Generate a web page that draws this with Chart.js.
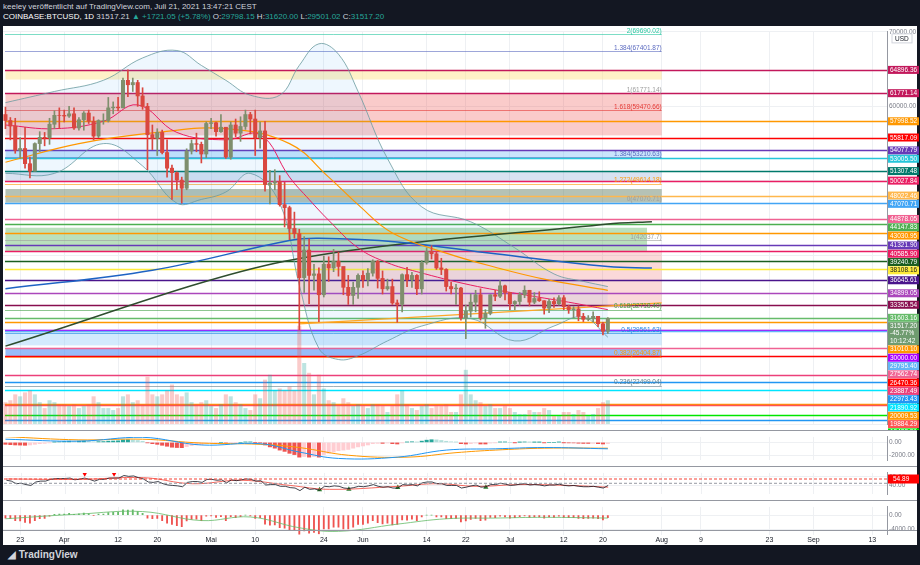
<!DOCTYPE html>
<html><head><meta charset="utf-8">
<script src="https://cdn.jsdelivr.net/npm/chart.js@4"></script>
<style>
body{margin:0;width:920px;height:565px;background:#131722;position:relative;overflow:hidden;font-family:"Liberation Sans",Arial,sans-serif}
#hd{position:absolute;left:3px;top:2px;color:#d1d4dc;font-size:8px;line-height:10px}
#hd b{font-weight:normal;color:#fff}#hd .g{color:#26a69a}
#white{position:absolute;left:3px;top:26px;width:914px;height:519px;background:#fff}
canvas{position:absolute;left:0}
.sep{position:absolute;left:3px;width:914px;height:1px;background:#9598a1}
#ft{position:absolute;left:8px;top:549px;color:#d1d4dc;font-size:10px;font-weight:bold}
</style></head><body>
<div id="hd">keeley veröffentlicht auf TradingView.com, Juli 21, 2021 13:47:21 CEST<br>
<b>COINBASE:BTCUSD, 1D</b> 31517.21 <span class="g">▲ +1721.05 (+5.78%)</span> O:<span class="g">29798.15</span> H:<span class="g">31620.00</span> L:<span class="g">29501.02</span> C:<span class="g">31517.20</span></div>
<div id="white"></div>
<canvas id="cMain" style="top:26px"></canvas>
<canvas id="cMacd" style="top:431px"></canvas>
<canvas id="cRsi" style="top:467px"></canvas>
<canvas id="cStoch" style="top:501px"></canvas>
<div class="sep" style="top:430px"></div><div class="sep" style="top:466px"></div><div class="sep" style="top:500px"></div><div class="sep" style="top:530px"></div>
<div id="ft">◢ TradingView</div>
<script>
// ---- data: daily candles from 20 Mar 2021 (day 0) to 21 Jul 2021 (day 123) ----
const firstOpen = 58900;
const closes = [58100,57350,54100,54340,52300,51300,55000,55840,55780,57600,58800,58790,
58700,59000,57100,58200,59100,58000,56000,58100,58100,59800,59900,59800,63500,62900,63200,61400,60000,56200,55700,56500,53800,51700,51100,50100,49000,54000,55000,54900,53600,57700,
57800,56600,57200,53200,57500,56400,57300,58900,58300,55800,56700,49500,49700,49900,46800,46400,43600,42900,37000,40700,37300,37500,34700,38800,38300,39200,38500,35700,34600,35700,37300,
36700,37600,39200,36900,35500,35800,33600,33400,37400,36700,37300,35500,39000,40500,40200,38300,38100,35800,35500,35600,31600,32500,33700,34700,31600,32200,34700,34500,35900,35000,
33500,33800,34700,35300,33700,34200,33900,32900,33800,33500,34300,33100,32700,32800,31800,31400,31500,31800,30800,29800,31517];
const highs = [59900,58500,58400,55800,57200,53200,55100,56600,56500,58400,59400,59800,
59500,60000,59800,58500,59300,59500,58600,58200,59000,61200,60600,61200,63800,64900,63800,63500,62500,60400,57500,57000,56800,55500,52100,51200,50500,54300,55500,56400,55200,57900,
58400,57900,58900,57200,57900,58300,58600,59500,59200,59500,57900,58000,51400,51500,50700,49800,46600,45800,43500,42500,42200,38800,38300,39900,39800,40800,40400,38200,37300,36400,37500,
37900,38200,39400,39300,37900,36800,36800,34000,37500,38400,37700,37400,39300,41000,41300,40500,39600,38200,36400,36100,35700,33300,34800,35300,35500,32700,34700,35300,36600,36000,
35000,33900,35000,35900,35300,35000,35100,33900,34100,34300,34600,34600,33300,33100,33200,32200,31900,32400,31800,31000,31620];
const lows = [57000,55500,53700,53000,51700,50400,51300,53900,54700,54900,57000,57000,
57900,58500,56900,56800,56800,57700,55500,55800,57600,57900,59000,59400,59800,61300,62000,60000,59600,51500,54200,53400,53600,50500,47500,48800,47000,48800,53600,53900,52400,53100,
57000,56000,56500,53000,52900,55900,55300,56900,56300,53400,54400,48600,46900,48800,46600,43800,42100,42300,30000,35000,33500,35300,31100,34400,36500,37800,37200,34700,33400,33400,34200,
35700,35900,37200,35600,34800,35300,33400,31000,32400,35800,35700,34700,34800,38800,39500,38100,37400,35200,34800,33400,31300,28800,31700,32400,31300,30200,32000,33900,34300,34000,
32700,32700,33300,34300,33200,33500,33800,32100,32300,33000,33300,32700,32200,31600,31200,31100,31200,31100,30400,29300,29501];
const volumes = [22,24,30,28,32,34,30,22,16,24,22,20,
20,18,20,16,18,20,28,22,16,16,14,16,28,30,22,24,20,48,30,28,30,34,40,30,28,32,22,20,22,24,
18,16,20,30,28,22,20,16,14,30,26,45,50,34,36,34,38,34,100,62,52,30,50,36,24,22,18,26,22,18,20,
18,16,20,20,18,12,18,30,34,20,16,14,18,20,16,18,18,20,12,12,30,55,30,24,22,18,20,16,16,18,
16,12,10,10,14,12,12,16,14,8,8,12,12,10,14,12,8,10,16,22,24];
const macdHist = [-300,-350,-400,-420,-450,-400,-300,-200,-150,-50,50,100,
150,200,180,200,220,180,100,120,130,200,220,250,380,420,400,300,180,-50,-200,-300,-450,-600,-750,-800,-820,-650,-500,-400,-350,-150,
-80,-50,0,-100,-50,-30,0,50,60,-20,-50,-400,-700,-900,-1200,-1400,-1700,-1900,-2300,-2200,-2300,-2200,-2300,-1900,-1700,-1500,-1300,-1200,-1100,-900,-700,
-550,-400,-200,-150,-150,-100,-200,-250,-50,50,100,50,200,350,420,400,300,180,100,50,-200,-250,-200,-100,-250,-250,-100,-50,50,60,
0,-20,20,60,20,20,20,-30,0,0,40,-20,-60,-80,-130,-160,-160,-150,-200,-250,-180];
const rsi = [52,50,44,45,42,40,48,50,50,54,56,56,
56,57,53,55,57,54,50,54,54,57,57,57,63,61,62,58,55,48,47,49,44,41,40,39,37,47,49,49,47,54,
54,52,53,46,53,51,53,55,54,50,51,41,42,42,38,38,35,34,28,36,31,32,29,38,37,39,38,34,33,35,38,
37,39,42,38,36,37,34,34,42,41,42,39,46,48,48,44,44,40,40,40,34,36,39,41,36,37,42,42,45,43,
40,41,43,44,41,42,41,39,41,41,43,40,39,40,38,37,37,38,36,34,40];
const momHist = [-800,-1000,-1500,-1600,-2000,-2200,-1500,-1000,-900,-300,200,300,
300,500,200,400,600,400,-100,300,300,700,800,800,1500,1400,1500,1000,500,-800,-1000,-900,-1500,-2200,-2600,-2900,-3200,-1600,-1200,-1100,-1500,-300,
-200,-600,-400,-1500,-400,-700,-400,0,-200,-900,-700,-2500,-2800,-2700,-3500,-3600,-4200,-4300,-5500,-4400,-5000,-4800,-5200,-3800,-3800,-3300,-3300,-3800,-3800,-3300,-2600,
-2600,-2200,-1500,-2100,-2400,-2200,-2700,-2600,-1300,-1400,-1100,-1500,-500,0,0,-500,-500,-1000,-1000,-900,-1900,-1600,-1200,-900,-1500,-1400,-600,-700,-300,-500,
-800,-700,-400,-200,-600,-500,-500,-800,-500,-600,-300,-600,-700,-700,-900,-1000,-900,-800,-1000,-1300,-700];

// indicator lines as [day, value]
const emaFast = [[0,57500],[10,57000],[20,58000],[27,60200],[35,56500],[45,55500],[52,56200],[58,50500],[62,47500],[66,44700],[72,41000],[78,39000],[84,37800],[95,36000],[105,34800],[115,33700],[123,32700]];
const emaMid = [[0,52500],[15,55000],[31,56500],[45,57000],[58,55000],[66,50500],[72,46800],[79,43000],[90,40300],[100,38400],[110,36800],[123,35300]];
const sma200 = [[0,35500],[30,38000],[58,42000],[64,42300],[80,41800],[100,40200],[123,38500],[132,38300]];
const emaLong = [[0,27800],[57,39200],[123,44200],[132,44500]];
const trendLine = [[60,30800],[134,33600]];
const bandDays = [0,10,20,28,35,40,45,50,56,60,64,68,72,78,85,95,104,112,118,123];
const bandUpper = [60500,62000,63500,66500,67500,65500,63500,61500,61500,65500,68400,67000,62000,53000,46500,44500,41000,37500,36500,35800];
const bandLower = [51000,51000,55000,52000,47000,47500,48500,51000,47000,36000,27500,26000,26500,28500,30500,31500,28500,30500,31700,29000];
const macdLine = [[0,500],[15,200],[28,800],[40,-400],[52,-200],[60,-1500],[68,-2500],[80,-2300],[90,-1200],[100,-1000],[110,-800],[123,-1000]];
const macdSignal = [[0,900],[15,400],[28,500],[40,-100],[52,-300],[60,-800],[70,-2000],[82,-2300],[92,-1600],[100,-1200],[110,-900],[123,-900]];
const rsiSmooth = [[0,55],[15,54],[28,58],[38,44],[48,52],[58,40],[66,31],[80,38],[88,44],[96,38],[105,42],[115,40],[123,36]];
const rsiSells = [[16,67],[22,67]];
const rsiBuys = [[64,30],[70,31],[80,35],[98,36]];
const momLine = [[0,-1000],[15,300],[28,1000],[40,-1500],[50,-500],[60,-3500],[68,-4500],[80,-2500],[90,-1000],[100,-800],[110,-600],[123,-800]];

const tickDays = [3,12,23,31,42,51,65,73,86,94,103,114,122,134,142,156,165,177];
const tickNames = ['23','Apr','12','20','Mai','10','24','Jun','14','22','Jul','12','20','Aug','9','23','Sep','13'];

// horizontal levels [price, colour]
const levels = [[64896.36,'#c2185b'],[61771.14,'#c2185b'],[57998.52,'#ff9800'],[55817.09,'#f00'],[54077.79,'#673ab7'],[53005.50,'#26c6da'],
[51307.48,'#00796b'],[50027.84,'#e91e63'],[48022.46,'#ffb74d'],[47070.71,'#42a5f5'],[44878.05,'#f06292'],[44147.83,'#4caf50'],[43030.95,'#ff9800'],
[41321.90,'#673ab7'],[40585.90,'#e91e63'],[39240.79,'#1b5e20'],[38108.16,'#ffeb3b'],[36645.61,'#4a148c'],[34899.05,'#ab47bc'],[33355.54,'#880e4f'],
[31603.16,'#66bb6a'],[31010.10,'#ff9800'],[30000.00,'#aa00ff'],[29795.40,'#64b5f6'],[27562.74,'#f06292'],[26470.36,'#f00'],[23887.49,'#ec407a'],
[22973.43,'#2196f3'],[21890.92,'#00e5ff'],[20009.53,'#ff9800'],[19884.29,'#ff5252'],[18488.51,'#00e600'],[17900.00,'#2196f3']];
// fibonacci labels [text, price, colour]
const fibs = [['2(69690.02)',69690,'#26c6a0'],['1.384(67401.87)',67402,'#5c6bc0'],['1(61771.14)',61771,'#9e9e9e'],['1.618(59470.66)',59471,'#e53935'],
['1.384(53210.63)',53211,'#5c6bc0'],['1.272(49614.18)',49614,'#ff9800'],['0(47070.71)',47071,'#9e9e9e'],['1(42037.7)',42038,'#9e9e9e'],
['0.618(32718.40)',32718,'#43a047'],['0.5(29561.63)',29562,'#1e88e5'],['0.382(26404.87)',26405,'#ff9800'],['0.236(22499.04)',22499,'#607d8b']];
// shaded zones [dayFrom, dayTo, priceTop, priceBottom, fill]
const zones = [[0,134,64896,63600,'rgba(255,224,130,0.45)'],[0,134,61771,56100,'rgba(239,83,80,0.3)'],[0,134,54077,53005,'rgba(100,181,246,0.35)'],
[0,134,51307,50027,'rgba(100,140,200,0.25)'],[0,134,48900,47070,'rgba(90,120,90,0.45)'],[0,131,43700,40585,'rgba(102,187,106,0.45)'],
[60,134,40585,33000,'rgba(239,83,80,0.22)'],[0,134,29795,27900,'rgba(144,202,249,0.4)'],[0,134,27562,26470,'rgba(66,133,244,0.55)']];

const up = '#7f8f6d', dn = '#d9473f';
const opens = [firstOpen, ...closes.slice(0, -1)];
const days = closes.map((c, i) => i);
const pts = a => a.map(p => ({x: p[0], y: p[1]}));
const axisW = 33;
const fitY = s => { s.width = axisW; };
const xScale = (showLabels) => ({
  type: 'linear', min: -0.5, max: 180, offset: false,
  afterBuildTicks: ax => { ax.ticks = tickDays.map(v => ({value: v})); },
  ticks: {display: showLabels, color: '#131722', font: {size: 7}, maxRotation: 0, autoSkip: false,
    callback: v => tickNames[tickDays.indexOf(v)], padding: 1},
  grid: {color: '#eef0f3', drawTicks: false, offset: false}, border: {display: false}
});
const yCommon = (min, max, ticks) => ({
  position: 'right', min, max, afterFit: fitY,
  afterBuildTicks: ticks ? (ax => { ax.ticks = ticks.map(v => ({value: v})); }) : undefined,
  ticks: {color: '#787b86', font: {size: 6.5}, padding: 2, callback: v => v.toFixed(2)},
  grid: {color: '#eef0f3', drawTicks: false}, border: {color: '#9598a1'}
});
const base = {responsive: false, animation: false, plugins: {legend: {display: false}, tooltip: {enabled: false}},
  layout: {padding: {left: 3, right: 0, top: 0, bottom: 0}}};
function size(id, h) { const c = document.getElementById(id); c.width = 920; c.height = h; c.style.width = '920px'; c.style.height = h + 'px'; return c; }

// ---- main price pane ----
const overlay = {
  id: 'overlay',
  beforeDatasetsDraw(chart) {
    const {ctx, scales: {x, y}, chartArea: a} = chart;
    ctx.save();
    zones.forEach(z => {
      ctx.fillStyle = z[4];
      const y1 = y.getPixelForValue(z[2]), y2 = y.getPixelForValue(z[3]);
      ctx.fillRect(x.getPixelForValue(z[0]), y1, x.getPixelForValue(z[1]) - x.getPixelForValue(z[0]), y2 - y1);
    });
    fibs.forEach(f => {
      const py = Math.round(y.getPixelForValue(f[1])) + 0.5;
      ctx.strokeStyle = f[2]; ctx.globalAlpha = 0.6; ctx.lineWidth = 1;
      ctx.beginPath(); ctx.moveTo(a.left + 2, py); ctx.lineTo(x.getPixelForValue(134), py); ctx.stroke();
    });
    ctx.globalAlpha = 1;
    levels.forEach(l => {
      const py = Math.round(y.getPixelForValue(l[0])) + 0.5;
      ctx.strokeStyle = l[1]; ctx.lineWidth = 1.5;
      ctx.beginPath(); ctx.moveTo(a.left + 2, py); ctx.lineTo(a.right, py); ctx.stroke();
    });
    ctx.restore();
  },
  afterDraw(chart) {
    const {ctx, scales: {x, y}, chartArea: a} = chart;
    ctx.save();
    ctx.font = '6.5px "Liberation Sans", Arial'; ctx.textBaseline = 'middle';
    fibs.forEach(f => {
      ctx.fillStyle = f[2]; ctx.textAlign = 'right';
      ctx.fillText(f[0], x.getPixelForValue(134), y.getPixelForValue(f[1]) - 3);
    });
    const items = levels.map(l => ({p: l[0], c: l[1], y: y.getPixelForValue(l[0])}))
      .concat([{p: 31517.20, c: '#6f9c70', y: y.getPixelForValue(31517.20), cur: true}])
      .sort((m, n) => m.y - n.y);
    let last = -99;
    items.forEach(it => {
      const h = it.cur ? 23 : 8;
      let ty = Math.max(it.y - 4, last + 0.3);
      last = ty + h;
      ctx.fillStyle = it.c; ctx.fillRect(a.right + 1, ty, axisW - 2, h);
      ctx.fillStyle = it.c === '#ffeb3b' ? '#131722' : '#fff'; ctx.textAlign = 'left';
      ctx.fillText(it.p.toFixed(2), a.right + 3, ty + 4.2);
      if (it.cur) { ctx.fillText('-45.77%', a.right + 3, ty + 11.5); ctx.fillText('10:12:42', a.right + 3, ty + 18.8); }
    });
    ctx.fillStyle = '#fff'; ctx.strokeStyle = '#d1d4dc';
    ctx.fillRect(a.right + 5, a.top + 2, 20, 9); ctx.strokeRect(a.right + 5, a.top + 2, 20, 9);
    ctx.fillStyle = '#131722'; ctx.fillText('USD', a.right + 8, a.top + 7);
    ctx.restore();
  }
};
new Chart(size('cMain', 404), {
  data: {datasets: [
    {type: 'bar', data: days.map(i => ({x: i, y: [opens[i], closes[i]]})), backgroundColor: days.map(i => closes[i] >= opens[i] ? up : dn), barThickness: 3.4, grouped: false, order: 1},
    {type: 'bar', data: days.map(i => ({x: i, y: [lows[i], highs[i]]})), backgroundColor: days.map(i => closes[i] >= opens[i] ? up : dn), barThickness: 1, grouped: false, order: 2},
    {type: 'line', data: pts(emaFast), borderColor: '#e91e63', borderWidth: 1, pointRadius: 0, tension: 0.4, order: 3},
    {type: 'line', data: pts(emaMid), borderColor: '#ff9800', borderWidth: 1.2, pointRadius: 0, tension: 0.4, order: 3},
    {type: 'line', data: pts(sma200), borderColor: '#1e63c4', borderWidth: 1.5, pointRadius: 0, tension: 0.4, order: 3},
    {type: 'line', data: pts(emaLong), borderColor: '#2e4d2e', borderWidth: 1.5, pointRadius: 0, tension: 0.3, order: 3},
    {type: 'line', data: pts(trendLine), borderColor: '#ffa726', borderWidth: 1.2, pointRadius: 0, order: 3},
    {type: 'line', data: bandDays.map((d, i) => ({x: d, y: bandUpper[i]})), borderColor: '#6a9aa0', borderWidth: 0.8, pointRadius: 0, tension: 0.4, fill: '+1', backgroundColor: 'rgba(33,150,243,0.08)', order: 4},
    {type: 'line', data: bandDays.map((d, i) => ({x: d, y: bandLower[i]})), borderColor: '#6a9aa0', borderWidth: 0.8, pointRadius: 0, tension: 0.4, order: 4},
    {type: 'bar', yAxisID: 'yv', data: days.map(i => ({x: i, y: volumes[i]})), backgroundColor: days.map(i => closes[i] >= opens[i] ? 'rgba(38,166,154,0.3)' : 'rgba(239,83,80,0.3)'), barThickness: 3.4, grouped: false, order: 5}
  ]},
  options: {...base, scales: {
    x: xScale(false),
    y: yCommon(17330, 70000),
    yv: {display: false, min: 0, max: 400}
  }},
  plugins: [overlay]
});

// ---- MACD pane ----
new Chart(size('cMacd', 35), {
  data: {datasets: [
    {type: 'line', data: pts(macdLine), borderColor: '#2196f3', borderWidth: 1, pointRadius: 0, tension: 0.4},
    {type: 'line', data: pts(macdSignal), borderColor: '#ff9800', borderWidth: 1, pointRadius: 0, tension: 0.4},
    {type: 'bar', data: days.map(i => ({x: i, y: macdHist[i]})), barThickness: 3.4,
      backgroundColor: days.map(i => macdHist[i] >= 0 ? (i && macdHist[i] < macdHist[i-1] ? '#b2dfdb' : '#26a69a') : (i && macdHist[i] > macdHist[i-1] ? '#ffcdd2' : '#ef5350'))}
  ]},
  options: {...base, scales: {x: xScale(false), y: yCommon(-2760, 860, [0, -2000])}}
});

// ---- RSI pane ----
new Chart(size('cRsi', 33), {
  data: {datasets: [
    {type: 'line', data: days.map(i => ({x: i, y: rsi[i]})), borderColor: '#131722', borderWidth: 0.8, pointRadius: 0},
    {type: 'line', data: pts(rsiSmooth), borderColor: '#f44336', borderWidth: 0.8, pointRadius: 0, tension: 0.4},
    {type: 'scatter', data: pts(rsiSells), pointStyle: 'triangle', rotation: 180, radius: 3, backgroundColor: '#f00', borderWidth: 0},
    {type: 'scatter', data: pts(rsiBuys), pointStyle: 'triangle', radius: 3, backgroundColor: '#2e7d32', borderWidth: 0}
  ]},
  options: {...base, scales: {x: xScale(false), y: yCommon(20, 69, [60, 40])}},
  plugins: [{id: 'rsiLine', afterDraw(chart) {
    const {ctx, scales: {y}, chartArea: a} = chart; const py = y.getPixelForValue(54.89);
    ctx.save(); ctx.setLineDash([3, 2]); ctx.strokeStyle = '#f44336'; ctx.beginPath(); ctx.moveTo(a.left, py); ctx.lineTo(a.right, py); ctx.stroke();
    ctx.strokeStyle = '#9598a1'; const p2 = y.getPixelForValue(45); ctx.beginPath(); ctx.moveTo(a.left, p2); ctx.lineTo(a.right, p2); ctx.stroke();
    ctx.setLineDash([]); ctx.fillStyle = '#f00'; ctx.fillRect(a.right + 1, py - 4.5, axisW - 2, 9);
    ctx.fillStyle = '#fff'; ctx.font = '6.5px "Liberation Sans", Arial'; ctx.textBaseline = 'middle'; ctx.fillText('54.89', a.right + 6, py);
    ctx.restore(); }}]
});

// ---- momentum pane with time axis ----
new Chart(size('cStoch', 44), {
  data: {datasets: [
    {type: 'line', data: pts(momLine), borderColor: '#66bb6a', borderWidth: 0.8, pointRadius: 0, tension: 0.4},
    {type: 'bar', data: days.map(i => ({x: i, y: momHist[i]})), barThickness: 1.2, backgroundColor: days.map(i => momHist[i] >= 0 ? '#66bb6a' : '#ef5350')}
  ]},
  options: {...base, scales: {x: xScale(true), y: yCommon(-5400, 2300, [0, -4000])}}
});
</script>
</body></html>
